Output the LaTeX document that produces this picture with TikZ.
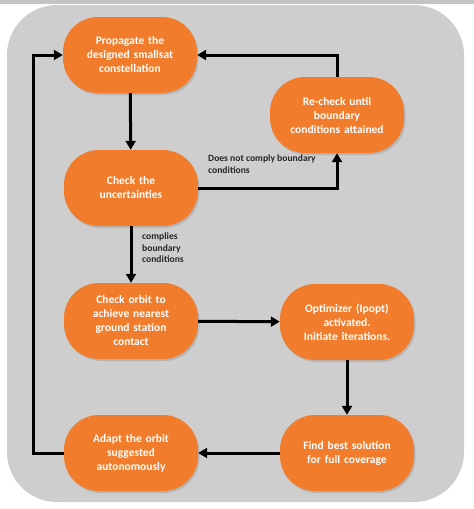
\documentclass[tikz,border=0pt]{standalone}
\usepackage{fontspec}
\setmainfont{Carlito}
\usetikzlibrary{arrows.meta,shadows}
\definecolor{panelgray}{RGB}{206,206,206}
\definecolor{stripgray}{RGB}{196,196,196}
\definecolor{boxorange}{RGB}{240,124,44}
\tikzset{
  stage/.style={fill=boxorange, rounded corners=35pt, minimum width=134pt,
    minimum height=76pt, text width=126pt, align=center, text=white,
    font=\bfseries\fontsize{11.5}{14}\selectfont,
    drop shadow={shadow xshift=1.5pt, shadow yshift=-2pt, opacity=0.3}},
  note/.style={align=left, inner sep=0pt, text=black!85,
    font=\bfseries\fontsize{9.6}{11.5}\selectfont},
  flow/.style={line width=3pt, -{Triangle[length=9pt,width=10pt]}}
}
\begin{document}
\begin{tikzpicture}[x=1pt,y=-1pt]
      \useasboundingbox (0,0) rectangle (474,509);
      \fill[white] (0,0) rectangle (474,509);
      \fill[stripgray] (0,0) rectangle (474,4);
      \fill[panelgray, rounded corners=50pt] (7,5) rectangle (464,502);
      \draw
        (130,55) node[stage] (0){Propagate the\\designed smallsat\\constellation}
        (337,115) node[stage] (1){Re-check until\\boundary\\conditions attained}
        (131,188) node[stage] (2){Check the\\uncertainties}
        (131,321) node[stage] (3){Check orbit to\\achieve nearest\\ground station\\contact}
        (347,322) node[stage] (4){Optimizer (Ipopt)\\activated.\\Initiate iterations.}
        (347,453) node[stage] (5){Find best solution\\for full coverage}
        (131,453) node[stage] (6){Adapt the orbit\\suggested\\autonomously};
      \node[note, anchor=north west] (no) at (208,155) {Does not comply boundary\\conditions};
      \node[note, anchor=north west] (yes) at (142,233) {complies\\boundary\\conditions};
      \coordinate (back) at (33,55);
      \begin{scope}[flow]
        \draw (0) to (2);
        \draw (2.east) -| (1.south);
        \draw (1.north) |- (0.east);
        \draw (2) to (3);
        \draw (3) to (4);
        \draw (4) to (5);
        \draw (5) to (6);
        \draw (6.west) -| (back) -- (0.west);
      \end{scope}
    \end{tikzpicture}
\end{document}
